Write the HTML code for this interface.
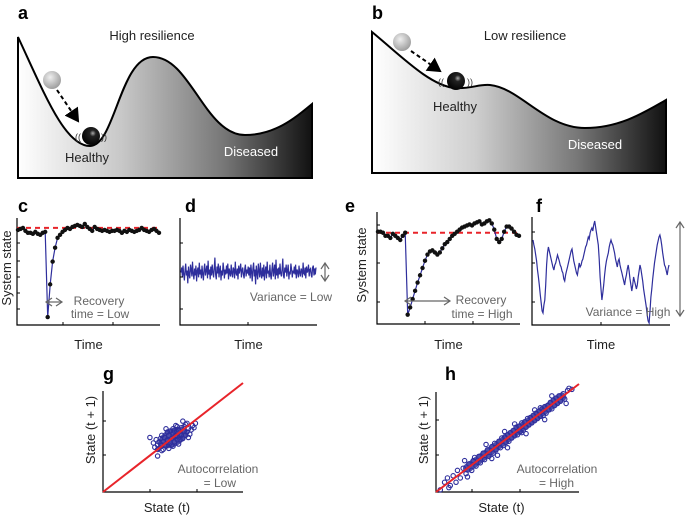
<!DOCTYPE html>
<html><head><meta charset="utf-8">
<style>
html,body{margin:0;padding:0;background:#fff;}
svg{display:block;font-family:"Liberation Sans",sans-serif;}
</style></head>
<body>
<svg id="fig" width="685" height="516" viewBox="0 0 685 516">
<defs>
<linearGradient id="gradA" x1="18" x2="312" y1="0" y2="0" gradientUnits="userSpaceOnUse">
<stop offset="0" stop-color="#ffffff"/><stop offset="0.35" stop-color="#c8c8c8"/><stop offset="0.7" stop-color="#777"/><stop offset="1" stop-color="#111"/>
</linearGradient>
<linearGradient id="gradB" x1="372" x2="666" y1="0" y2="0" gradientUnits="userSpaceOnUse">
<stop offset="0" stop-color="#ffffff"/><stop offset="0.35" stop-color="#cfcfcf"/><stop offset="0.7" stop-color="#777"/><stop offset="1" stop-color="#111"/>
</linearGradient>
<radialGradient id="greyBall" cx="0.4" cy="0.35" r="0.7"><stop offset="0" stop-color="#eee"/><stop offset="1" stop-color="#999"/></radialGradient>
<radialGradient id="blackBall" cx="0.6" cy="0.35" r="0.7"><stop offset="0" stop-color="#aaa"/><stop offset="0.25" stop-color="#222"/><stop offset="1" stop-color="#000"/></radialGradient>
<marker id="ah" markerWidth="8" markerHeight="8" refX="6" refY="4" orient="auto"><path d="M0,0 L7,4 L0,8 z" fill="#000"/></marker>
<marker id="gh" markerUnits="userSpaceOnUse" markerWidth="10" markerHeight="10" refX="8" refY="5" orient="auto"><path d="M2,1 L8,5 L2,9" fill="none" stroke="#666" stroke-width="1.2"/></marker>
<marker id="gt" markerUnits="userSpaceOnUse" markerWidth="10" markerHeight="10" refX="2" refY="5" orient="auto"><path d="M8,1 L2,5 L8,9" fill="none" stroke="#666" stroke-width="1.2"/></marker>
</defs>

<g>
<text x="18" y="19" font-size="18" font-weight="bold">a</text>
<text x="152" y="40" font-size="13" text-anchor="middle" fill="#222">High resilience</text>
<path d="M18,37 C45,95 65,146 90,146 C115,146 120,57 153,57 C190,57 205,135 245,135 C275,135 295,118 312,104 L312,178 L18,178 Z" fill="url(#gradA)" stroke="#000" stroke-width="2"/>
<circle cx="52" cy="80" r="9" fill="url(#greyBall)"/>
<line x1="57" y1="90" x2="78" y2="121" stroke="#000" stroke-width="2" stroke-dasharray="4,3" marker-end="url(#ah)"/>
<circle cx="91" cy="136" r="9" fill="url(#blackBall)"/>
<text x="75" y="140" font-size="9" fill="#333">((</text>
<text x="101" y="140" font-size="9" fill="#333">))</text>
<text x="87" y="162" font-size="13" text-anchor="middle" fill="#222">Healthy</text>
<text x="251" y="156" font-size="13" text-anchor="middle" fill="#fff">Diseased</text>
</g>

<g>
<text x="372" y="19" font-size="18" font-weight="bold">b</text>
<text x="525" y="40" font-size="13" text-anchor="middle" fill="#222">Low resilience</text>
<path d="M372,32 C400,55 430,86 455,88 C472,89 478,84 490,85 C520,88 545,128 585,128 C620,128 645,112 666,100 L666,173 L372,173 Z" fill="url(#gradB)" stroke="#000" stroke-width="2"/>
<circle cx="402" cy="42" r="9" fill="url(#greyBall)"/>
<line x1="411" y1="51" x2="440" y2="71" stroke="#000" stroke-width="2" stroke-dasharray="4,3" marker-end="url(#ah)"/>
<circle cx="456" cy="81" r="9" fill="url(#blackBall)"/>
<text x="438" y="85" font-size="9" fill="#333">((</text>
<text x="467" y="85" font-size="9" fill="#333">))</text>
<text x="455" y="111" font-size="13" text-anchor="middle" fill="#222">Healthy</text>
<text x="595" y="149" font-size="13" text-anchor="middle" fill="#fff">Diseased</text>
</g>

<g id="charts"></g>
</svg>
<script>
const NS = "http://www.w3.org/2000/svg";
const root = document.getElementById("charts");

// ---------- data ----------
const seriesC = [96,97,98,95,93,93,92,94,92,91,93,94,8,41,64,78,88,91,94,96,98,97,99,100,101,100,99,102,99,97,95,99,97,96,95,96,95,94,95,95,96,95,93,95,94,96,95,94,95,96,98,96,95,94,96,97,95,93];
const seriesE = [89,89,88,85,85,83,87,85,83,81,85,88,9,16,24,32,40,47,54,61,67,70,71,69,67,69,73,77,79,82,85,87,89,91,93,94,95,96,95,97,98,99,96,97,99,100,97,91,82,79,82,89,94,94,92,89,86,85];
const seriesD = [53,58,49,60,51,45,56,62,50,55,42,59,51,47,61,56,49,64,52,46,57,50,60,44,55,58,48,63,51,56,47,60,52,45,57,62,50,55,60,47,65,51,56,46,59,50,61,53,48,57,68,51,46,59,52,62,48,56,60,45,55,50,63,57,47,56,51,60,52,62,46,57,53,49,61,52,48,58,56,47,64,53,50,57,46,60,52,56,62,48,55,58,51,47,57,61,49,56,52,59,
                 50,58,47,61,53,44,57,63,49,56,41,60,52,46,62,55,48,63,51,47,58,49,61,45,54,59,47,64,52,55,48,61,51,46,56,63,49,54,61,46,66,50,57,47,58,51,62,52,49,56,67,50,47,58,53,61,49,55,61,46,54,51,62,56,48,55,52,59,51,61,47,56,54,48,60,53,49,57,55,48,63,52,51,58,47,59,53,55,61,49,56,57,50,48,58,60,50,57,51,58];
const seriesF = [85,80,76,70,64,55,48,40,30,22,14,12,20,25,40,60,72,78,74,70,66,62,58,55,60,62,66,70,67,64,60,58,54,52,46,44,50,54,58,62,66,70,74,76,70,64,60,56,52,50,56,62,58,60,64,66,70,74,78,80,84,88,86,92,95,97,94,100,104,98,92,86,80,66,48,36,25,32,40,50,58,64,68,72,78,82,85,82,80,76,72,66,62,58,64,66,60,56,52,48,44,40,46,50,56,60,54,46,40,34,40,48,44,40,36,40,48,54,60,56,50,44,36,30,24,18,10,4,2,14,28,36,46,54,62,68,74,80,84,88,90,86,80,72,66,60,58,54,50,56,60];
const gX = [4.9,5.2,4.6,5.5,4.3,5.8,4.1,5.0,4.7,5.3,5.9,4.4,3.9,6.1,5.6,4.8,5.1,4.5,5.4,6.0,3.8,4.2,5.7,6.2,4.0,5.0,4.6,5.3,5.8,6.4,4.9,3.6,4.3,5.5,6.3,5.2,4.1,4.8,5.6,3.9,4.4,5.9,6.5,4.7,5.1,3.7,5.4,6.0,4.2,3.35,3.9,5.0,4.5,5.7,6.6,4.0,5.3,6.1,4.6,5.2];
const gY = [4.9,5.1,4.7,5.3,4.6,5.6,4.4,5.4,5.2,4.8,5.2,5.0,4.3,5.8,5.9,4.5,4.6,4.2,5.7,5.5,4.8,5.2,4.9,5.3,4.0,5.8,5.5,5.5,6.0,6.1,4.3,4.5,3.9,4.8,5.7,6.1,4.9,5.6,5.2,3.9,4.3,6.2,5.9,4.0,5.6,4.1,4.4,6.3,3.8,5.0,3.3,4.2,5.8,6.5,6.3,4.6,6.0,5.0,4.8,5.2];
const hX = [0.3,0.6,0.9,1.2,1.4,1.7,1.9,2.1,2.3,2.5,2.6,2.8,3.0,3.1,3.3,3.4,3.6,3.7,3.9,4.0,4.1,4.2,4.4,4.5,4.6,4.7,4.8,4.9,5.0,5.1,5.2,5.3,5.4,5.5,5.6,5.7,5.8,5.9,6.0,6.1,6.2,6.3,6.4,6.5,6.6,6.7,6.8,6.9,7.0,7.1,7.2,7.3,7.4,7.5,7.6,7.7,7.8,7.9,8.0,8.1,8.2,8.3,8.4,8.5,8.6,8.7,8.9,9.0,9.2,9.3,9.5,9.1,0.8,1.5,2.2,2.0,3.5,4.3,5.0,5.5,6.3,6.9,7.6,8.1,3.9,4.8,6.0,7.3,1.0,2.7];
const hY = [0.2,0.9,0.4,1.5,0.9,1.3,2.2,1.7,2.6,2.0,2.9,2.4,3.3,2.7,3.6,3.0,3.9,3.3,4.2,3.6,4.5,3.9,4.7,4.1,5.0,4.3,5.1,4.6,5.3,4.7,5.5,5.0,5.7,5.2,6.0,5.3,6.1,5.6,6.4,5.7,6.5,6.0,6.8,6.2,6.9,6.4,7.1,6.6,7.3,6.8,7.5,7.0,7.7,7.1,7.9,7.3,8.0,7.6,8.3,7.7,8.5,8.0,8.7,8.2,8.9,8.4,9.1,8.6,9.4,9.6,9.5,8.2,1.3,2.0,1.4,2.9,4.4,3.4,4.1,6.3,5.4,7.6,6.7,8.9,3.1,5.6,5.5,7.8,0.6,3.2];

// ---------- helpers ----------
function mk(tag, attrs, parent) {
  const el = document.createElementNS(NS, tag);
  for (const k in attrs) el.setAttribute(k, attrs[k]);
  (parent || root).appendChild(el);
  return el;
}
function linear(d0, d1, r0, r1) { return v => r0 + (v - d0) * (r1 - r0) / (d1 - d0); }

function axes(g, L, R, T, B, xt, yt) {
  const ax = mk("path", {d:`M${L},${T} L${L},${B} L${R},${B}`, fill:"none", stroke:"#000", "stroke-width":1.2}, g);
  
  
  xt.forEach(x => {
    const t = mk("line", {x1:x, x2:x, y1:B, y2:B-3, stroke:"#000", "stroke-width":1}, g);
    
    
  });
  yt.forEach(y => {
    const t = mk("line", {x1:L, x2:L+3, y1:y, y2:y, stroke:"#000", "stroke-width":1}, g);
    
    
  });
}
function text(g, x, y, s, size, opts) {
  const t = mk("text", Object.assign({x:x, y:y, "font-size":size, fill:"#222"}, opts || {}), g);
  t.textContent = s;
  return t;
}

function tsPanel(name, letter, lx, L, R, T, B, data, dom, dashY, withDots, xt, yt) {
  const g = mk("g", {});
  
  
  const lab = text(g, lx, 212, letter, 18, {"font-weight":"bold", fill:"#000"});
  
  
  axes(g, L, R, T, B, xt, yt);
  const xs = linear(0, data.length - 1, L + 1, R - 1);
  const ys = linear(dom[0], dom[1], B, T);
  if (dashY !== null) {
    const dl = mk("line", {x1:L, x2:R, y1:ys(dashY), y2:ys(dashY), stroke:"#e8242a", "stroke-width":2, "stroke-dasharray":"5,4"}, g);
    
    
  }
  const pts = data.map((v, i) => xs(i).toFixed(1) + "," + ys(v).toFixed(1)).join(" ");
  const pl = mk("polyline", {points:pts, fill:"none", stroke:"#2e2e9c", "stroke-width":1.2}, g);
  
  
  if (withDots) {
    data.forEach((v, i) => {
      const c = mk("circle", {cx:xs(i), cy:ys(v), r:2.2, fill:"#111"}, g);
      
      
    });
  }
  const tl = text(g, (L + R) / 2, 349, "Time", 13, {"text-anchor":"middle"});
  
  
  return g;
}

const gc = tsPanel("panel-c", "c", 18, 17, 160, 218, 325, seriesC, [0, 108], 98, true, [63, 113], [243, 261, 277, 293, 309]);
const yc = text(gc, 0, 0, "System state", 13, {"text-anchor":"middle", transform:"translate(11,268) rotate(-90)"});


const ac = mk("line", {x1:46, x2:62, y1:302, y2:302, stroke:"#666", "stroke-width":1.2, "marker-end":"url(#gh)", "marker-start":"url(#gt)"}, gc);


const rc1 = text(gc, 99, 305, "Recovery", 12, {"text-anchor":"middle", fill:"#666"});


const rc2 = text(gc, 100, 318, "time = Low", 12, {"text-anchor":"middle", fill:"#666"});



const gd = tsPanel("panel-d", "d", 185, 180, 317, 218, 325, seriesD, [0, 108], null, false, [248], [243, 277, 309]);
const ad = mk("line", {x1:325, x2:325, y1:263, y2:281, stroke:"#666", "stroke-width":1.2, "marker-end":"url(#gh)", "marker-start":"url(#gt)"}, gd);


const vd = text(gd, 291, 301, "Variance = Low", 12, {"text-anchor":"middle", fill:"#666"});



const ge = tsPanel("panel-e", "e", 345, 377, 520, 212, 324, seriesE, [0, 108], 88, true, [425, 473], [225, 263, 302]);
const ye = text(ge, 0, 0, "System state", 13, {"text-anchor":"middle", transform:"translate(366,265) rotate(-90)"});


const ae = mk("line", {x1:405, x2:450, y1:301, y2:301, stroke:"#666", "stroke-width":1.2, "marker-end":"url(#gh)", "marker-start":"url(#gt)"}, ge);


const re1 = text(ge, 481, 304, "Recovery", 12, {"text-anchor":"middle", fill:"#666"});


const re2 = text(ge, 482, 318, "time = High", 12, {"text-anchor":"middle", fill:"#666"});



const gf = tsPanel("panel-f", "f", 536, 532, 670, 217, 325, seriesF, [0, 108], null, false, [601], [232, 263, 302]);
const af = mk("line", {x1:680, x2:680, y1:222, y2:316, stroke:"#666", "stroke-width":1.2, "marker-end":"url(#gh)", "marker-start":"url(#gt)"}, gf);


const vf = text(gf, 628, 316, "Variance = High", 12, {"text-anchor":"middle", fill:"#666"});



function scatterPanel(name, letter, lx, L, R, T, B, xsData, ysData, xt, yt) {
  const g = mk("g", {});
  
  
  const lab = text(g, lx, 380, letter, 18, {"font-weight":"bold", fill:"#000"});
  
  
  axes(g, L, R, T + 8, B, xt, yt);
  const xs = linear(0, 10, L, R);
  const ys = linear(0, 10, B, T);
  xsData.forEach((v, i) => {
    const c = mk("circle", {cx:xs(v), cy:ys(ysData[i]), r:2.2, fill:"none", stroke:"#2e2e9c", "stroke-width":1.1}, g);
    
    
  });
  const rl = mk("line", {x1:xs(0), y1:ys(0), x2:xs(10), y2:ys(10), stroke:"#e8242a", "stroke-width":2}, g);
  
  
  const xt2 = text(g, (L + R) / 2 - 6, 512, "State (t)", 13, {"text-anchor":"middle"});
  
  
  const yt2 = text(g, 0, 0, "State (t + 1)", 13, {"text-anchor":"middle", transform:`translate(${L - 8},430) rotate(-90)`});
  
  
  return {g, xs, ys};
}

const G = scatterPanel("panel-g", "g", 103, 103, 243, 383, 492, gX, gY, [150, 197], [421, 455]);
// dense core of the point cloud
const gcore = mk("ellipse", {cx:G.xs(5.0), cy:G.ys(5.0), rx:16, ry:9, fill:"#2e2e9c", opacity:0.85, transform:`rotate(-28 ${G.xs(5.0)} ${G.ys(5.0)})`}, G.g);


G.g.insertBefore(gcore, G.g.querySelector('line[stroke="#e8242a"]'));
const ga = text(G.g, 218, 473, "Autocorrelation", 12, {"text-anchor":"middle", fill:"#666"});


const gb = text(G.g, 236, 487, "= Low", 12, {"text-anchor":"end", fill:"#666"});



const H = scatterPanel("panel-h", "h", 445, 436, 579, 384, 492, hX, hY, [472, 520], [420, 455]);
const hcore = mk("line", {x1:H.xs(2.2), y1:H.ys(2.2), x2:H.xs(8.8), y2:H.ys(8.8), stroke:"#2e2e9c", "stroke-width":9, "stroke-linecap":"round", opacity:0.85}, H.g);


H.g.insertBefore(hcore, H.g.querySelector('line[stroke="#e8242a"]'));
const ha = text(H.g, 557, 473, "Autocorrelation", 12, {"text-anchor":"middle", fill:"#666"});


const hb = text(H.g, 574, 487, "= High", 12, {"text-anchor":"end", fill:"#666"});


</script>
</body></html>
